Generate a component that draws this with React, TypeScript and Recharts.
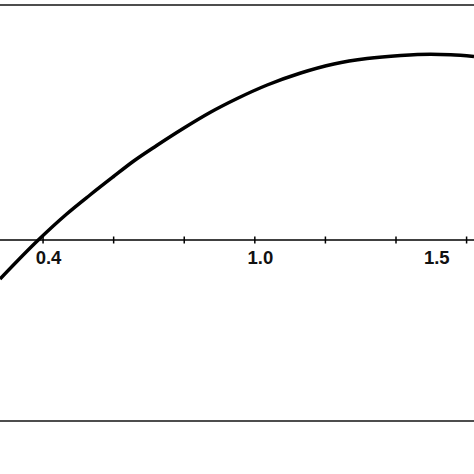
import React from "react";
import { LineChart, Line, XAxis, YAxis, ReferenceLine, ReferenceDot } from "recharts";

const xValues = [0.278, 0.385, 0.467, 0.533, 0.598, 0.655, 0.722, 0.797, 0.873, 0.95, 1.035, 1.13, 1.224, 1.318, 1.413, 1.498, 1.555, 1.621];
const yValues = [-0.39, -0.005, 0.26, 0.45, 0.63, 0.785, 0.945, 1.115, 1.275, 1.415, 1.55, 1.67, 1.76, 1.815, 1.845, 1.857, 1.852, 1.835];
const minorTicks = [0.4, 0.6, 0.8, 1.0, 1.2, 1.4, 1.6];
const labelTicks = [0.4, 1.0, 1.5];
const labelTexts = ["0.4", "1.0", "1.5"];

const data = xValues.map((x, i) => ({ x, y: yValues[i] }));

const X_DOMAIN: [number, number] = [0.278, 1.621];
const Y_DOMAIN: [number, number] = [-1.81, 2.35];
const TICK_HALF = 0.035;

const makeLabel = (text: string) => (props: any) => {
  const vb = props.viewBox || {};
  const cx = (vb.x ?? 0) + (vb.width ?? 0) / 2;
  const cy = (vb.y ?? 0) + (vb.height ?? 0) / 2;
  return (
    <text
      x={cx + 5.5}
      y={cy + 24}
      textAnchor="middle"
      fontSize={18.5}
      style={{ fontSize: "18.5px", fontFamily: "'Liberation Sans', Arial, sans-serif", fontWeight: 700 }}
      fill="#111"
    >
      {text}
    </text>
  );
};

export default function App() {
  return (
    <div style={{ position: "absolute", left: 0, top: 0, width: 474, height: 474, background: "#fff" }}>
      <LineChart width={474} height={474} data={data} margin={{ top: 5, right: 0, bottom: 53, left: 0 }}>
        <XAxis dataKey="x" type="number" domain={X_DOMAIN} allowDataOverflow hide />
        <YAxis hide type="number" domain={Y_DOMAIN} allowDataOverflow />
        <ReferenceLine y={Y_DOMAIN[1]} stroke="#4d4d4d" strokeWidth={2} ifOverflow="visible" />
        <ReferenceLine y={Y_DOMAIN[0]} stroke="#4d4d4d" strokeWidth={2} ifOverflow="visible" />
        <ReferenceLine y={0} stroke="#000" strokeWidth={1.5} />
        {minorTicks.map((t) => (
          <ReferenceLine
            key={"t" + t}
            segment={[{ x: t, y: -TICK_HALF }, { x: t, y: TICK_HALF }]}
            stroke="#000"
            strokeWidth={1.5}
          />
        ))}
        {labelTicks.map((t, i) => (
          <ReferenceDot
            key={"l" + t}
            x={t}
            y={0}
            r={0}
            stroke="none"
            fill="none"
            label={makeLabel(labelTexts[i])}
          />
        ))}
        <Line
          type="monotone"
          dataKey="y"
          stroke="#000"
          strokeWidth={3.5}
          dot={false}
          isAnimationActive={false}
        />
      </LineChart>
    </div>
  );
}
